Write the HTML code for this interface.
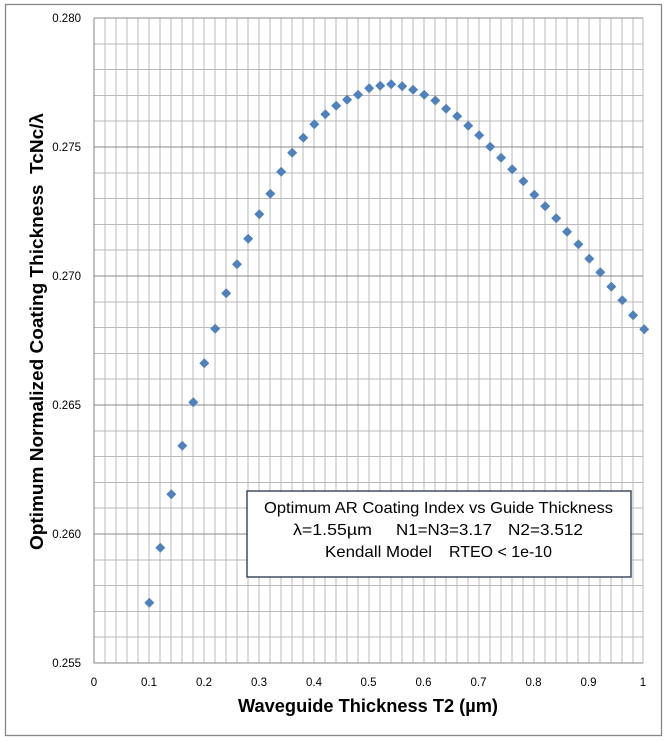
<!DOCTYPE html>
<html><head><meta charset="utf-8"><style>
html,body{margin:0;padding:0;background:#fff;}
svg{display:block;}
text{font-family:"Liberation Sans",sans-serif;fill:#000;}
</style></head><body>
<svg width="668" height="742" viewBox="0 0 668 742" xmlns="http://www.w3.org/2000/svg">
<rect x="0" y="0" width="668" height="742" fill="#fff"/>
<rect x="5.5" y="4.5" width="656" height="731" fill="none" stroke="#878787" stroke-width="1.3"/>
<g shape-rendering="crispEdges" fill="none">
<path stroke="#b9b9b9" stroke-width="1" d="M105,18V663M116,18V663M127,18V663M138,18V663M149,18V663M160,18V663M171,18V663M182,18V663M193,18V663M204,18V663M215,18V663M226,18V663M237,18V663M248,18V663M259,18V663M270,18V663M281,18V663M292,18V663M303,18V663M314,18V663M325,18V663M336,18V663M347,18V663M358,18V663M369,18V663M380,18V663M391,18V663M402,18V663M413,18V663M424,18V663M435,18V663M446,18V663M457,18V663M468,18V663M479,18V663M490,18V663M501,18V663M512,18V663M523,18V663M534,18V663M545,18V663M556,18V663M567,18V663M578,18V663M589,18V663M600,18V663M611,18V663M622,18V663M633,18V663M643,18V663"/>
<path stroke="#b9b9b9" stroke-width="1" d="M94,43.8H643M94,69.6H643M94,95.4H643M94,121.2H643M94,172.8H643M94,198.6H643M94,224.4H643M94,250.2H643M94,301.8H643M94,327.6H643M94,353.4H643M94,379.2H643M94,430.8H643M94,456.6H643M94,482.4H643M94,508.2H643M94,559.8H643M94,585.6H643M94,611.4H643M94,637.2H643"/>
<path stroke="#8a8a8a" stroke-width="1" d="M94,18H643M94,147H643M94,276H643M94,405H643M94,534H643"/>
<path stroke="#868686" stroke-width="1.2" d="M94,18V663H643"/>
</g>
<g font-size="11.5" text-anchor="end">
<text x="81" y="22">0.280</text>
<text x="81" y="151">0.275</text>
<text x="81" y="280">0.270</text>
<text x="81" y="409">0.265</text>
<text x="81" y="538">0.260</text>
<text x="81" y="667">0.255</text>
</g>
<g font-size="11.5" text-anchor="middle">
<text x="94" y="686">0</text>
<text x="149" y="686">0.1</text>
<text x="204" y="686">0.2</text>
<text x="259" y="686">0.3</text>
<text x="314" y="686">0.4</text>
<text x="368.5" y="686">0.5</text>
<text x="423.5" y="686">0.6</text>
<text x="478.5" y="686">0.7</text>
<text x="533.5" y="686">0.8</text>
<text x="588.5" y="686">0.9</text>
<text x="643" y="686">1</text>
</g>
<text x="238" y="712" font-size="18" font-weight="bold" textLength="260" lengthAdjust="spacingAndGlyphs">Waveguide Thickness T2 (µm)</text>
<text transform="translate(43,550) rotate(-90)" font-size="18" font-weight="bold" textLength="437" lengthAdjust="spacingAndGlyphs">Optimum Normalized Coating Thickness&#160;&#160;TcNc/λ</text>
<g fill="#4f81bd">
<path d="M149.3,597.7l5,5l-5,5l-5,-5z"/>
<path d="M160.3,542.7l5,5l-5,5l-5,-5z"/>
<path d="M171.3,489.3l5,5l-5,5l-5,-5z"/>
<path d="M182.3,440.7l5,5l-5,5l-5,-5z"/>
<path d="M193.3,397.3l5,5l-5,5l-5,-5z"/>
<path d="M204.3,358.3l5,5l-5,5l-5,-5z"/>
<path d="M215.2,323.7l5,5l-5,5l-5,-5z"/>
<path d="M226.2,288.3l5,5l-5,5l-5,-5z"/>
<path d="M237,259.3l5,5l-5,5l-5,-5z"/>
<path d="M248.2,233.7l5,5l-5,5l-5,-5z"/>
<path d="M259.3,209.3l5,5l-5,5l-5,-5z"/>
<path d="M270.3,188.7l5,5l-5,5l-5,-5z"/>
<path d="M281.2,166.7l5,5l-5,5l-5,-5z"/>
<path d="M292.2,147.7l5,5l-5,5l-5,-5z"/>
<path d="M303.3,132.7l5,5l-5,5l-5,-5z"/>
<path d="M314.3,119.3l5,5l-5,5l-5,-5z"/>
<path d="M325.3,109.3l5,5l-5,5l-5,-5z"/>
<path d="M336.2,100.7l5,5l-5,5l-5,-5z"/>
<path d="M347.1,94.7l5,5l-5,5l-5,-5z"/>
<path d="M358.1,89.7l5,5l-5,5l-5,-5z"/>
<path d="M369.2,83.3l5,5l-5,5l-5,-5z"/>
<path d="M380.2,80.7l5,5l-5,5l-5,-5z"/>
<path d="M391.2,79.3l5,5l-5,5l-5,-5z"/>
<path d="M402.2,81.3l5,5l-5,5l-5,-5z"/>
<path d="M413.1,84.7l5,5l-5,5l-5,-5z"/>
<path d="M424.2,89.7l5,5l-5,5l-5,-5z"/>
<path d="M435.3,95.5l5,5l-5,5l-5,-5z"/>
<path d="M446.1,103.7l5,5l-5,5l-5,-5z"/>
<path d="M457.2,111.3l5,5l-5,5l-5,-5z"/>
<path d="M468.2,120.7l5,5l-5,5l-5,-5z"/>
<path d="M479.2,130.3l5,5l-5,5l-5,-5z"/>
<path d="M490.2,141.7l5,5l-5,5l-5,-5z"/>
<path d="M501.1,152.7l5,5l-5,5l-5,-5z"/>
<path d="M512.2,164.3l5,5l-5,5l-5,-5z"/>
<path d="M523.4,176.3l5,5l-5,5l-5,-5z"/>
<path d="M534.3,189.7l5,5l-5,5l-5,-5z"/>
<path d="M545.2,201.3l5,5l-5,5l-5,-5z"/>
<path d="M556.2,213.3l5,5l-5,5l-5,-5z"/>
<path d="M567.1,226.7l5,5l-5,5l-5,-5z"/>
<path d="M578.4,239.3l5,5l-5,5l-5,-5z"/>
<path d="M589.3,253.7l5,5l-5,5l-5,-5z"/>
<path d="M600.3,267.3l5,5l-5,5l-5,-5z"/>
<path d="M611.3,281.7l5,5l-5,5l-5,-5z"/>
<path d="M622.3,295.3l5,5l-5,5l-5,-5z"/>
<path d="M633.1,310.3l5,5l-5,5l-5,-5z"/>
<path d="M644.2,324.3l5,5l-5,5l-5,-5z"/>
</g>
<rect x="247" y="491" width="384" height="86" fill="#fff" stroke="#243447" stroke-width="1.3"/>
<g font-size="16">
<text x="264" y="513" textLength="349" lengthAdjust="spacingAndGlyphs">Optimum AR Coating Index vs Guide Thickness</text>
<text x="293" y="535" textLength="79" lengthAdjust="spacingAndGlyphs">λ=1.55µm</text>
<text x="396" y="535" textLength="96" lengthAdjust="spacingAndGlyphs">N1=N3=3.17</text>
<text x="508" y="535" textLength="75" lengthAdjust="spacingAndGlyphs">N2=3.512</text>
<text x="325" y="557" textLength="107" lengthAdjust="spacingAndGlyphs">Kendall Model</text>
<text x="449" y="557" textLength="103" lengthAdjust="spacingAndGlyphs">RTEO &lt; 1e-10</text>
</g>
</svg>
</body></html>
